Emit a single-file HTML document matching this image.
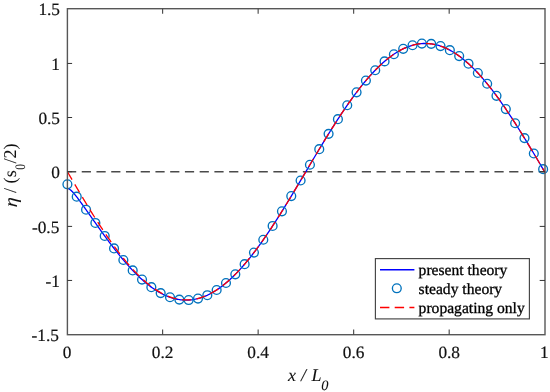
<!DOCTYPE html>
<html><head><meta charset="utf-8"><title>plot</title>
<style>html,body{margin:0;padding:0;background:#fff}svg{display:block}text{font-family:"Liberation Serif","Times New Roman",serif;fill:#111;text-rendering:geometricPrecision;stroke:#111;stroke-width:0.2px}.yl text{stroke-width:0.04px}</style></head><body>
<svg width="550" height="392" viewBox="0 0 550 392">
<rect width="550" height="392" fill="#fff"/>
<path d="M67.00,171.70 L545.00,171.70" stroke="#4a4a4a" stroke-width="1.4" stroke-dasharray="9.2 5.54" fill="none"/>
<path d="M67.40,188.42 L67.80,188.47 L68.21,188.57 L68.61,188.72 L69.02,188.91 L69.42,189.15 L69.83,189.42 L70.23,189.72 L70.64,190.04 L71.04,190.40 L71.45,190.77 L71.85,191.17 L72.26,191.58 L72.66,192.01 L73.07,192.46 L73.47,192.91 L73.88,193.38 L74.28,193.86 L74.69,194.35 L75.09,194.84 L75.49,195.35 L75.90,195.86 L76.30,196.37 L76.71,196.89 L77.11,197.42 L77.52,197.95 L77.92,198.49 L78.33,199.03 L78.73,199.57 L79.14,200.11 L79.54,200.66 L79.95,201.21 L80.35,201.77 L80.76,202.32 L81.16,202.88 L81.57,203.44 L81.97,204.00 L82.38,204.56 L82.78,205.13 L83.19,205.69 L83.59,206.26 L83.99,206.82 L84.40,207.39 L84.80,207.96 L85.21,208.53 L85.61,209.10 L86.02,209.67 L86.42,210.25 L86.83,210.82 L87.23,211.39 L87.64,211.96 L88.04,212.54 L88.45,213.11 L88.85,213.68 L89.26,214.26 L89.66,214.83 L90.07,215.41 L90.47,215.98 L90.88,216.56 L91.28,217.13 L92.47,218.83 L93.67,220.52 L94.86,222.21 L96.06,223.90 L97.25,225.58 L98.44,227.26 L99.64,228.93 L100.83,230.60 L102.03,232.26 L103.22,233.91 L104.41,235.55 L105.61,237.19 L106.80,238.81 L108.00,240.42 L109.19,242.02 L110.38,243.61 L111.58,245.19 L112.77,246.76 L113.97,248.31 L115.16,249.85 L116.35,251.37 L117.55,252.87 L118.74,254.36 L119.94,255.84 L121.13,257.30 L122.32,258.74 L123.52,260.16 L124.71,261.56 L125.91,262.95 L127.10,264.31 L128.29,265.66 L129.49,266.98 L130.68,268.28 L131.88,269.57 L133.07,270.83 L134.26,272.07 L135.46,273.28 L136.65,274.48 L137.85,275.65 L139.04,276.79 L140.23,277.92 L141.43,279.02 L142.62,280.09 L143.82,281.14 L145.01,282.16 L146.20,283.16 L147.40,284.13 L148.59,285.08 L149.79,286.00 L150.98,286.89 L152.17,287.75 L153.37,288.59 L154.56,289.40 L155.76,290.18 L156.95,290.94 L158.14,291.66 L159.34,292.36 L160.53,293.03 L161.73,293.66 L162.92,294.27 L164.11,294.85 L165.31,295.40 L166.50,295.93 L167.70,296.42 L168.89,296.88 L170.08,297.31 L171.28,297.71 L172.47,298.08 L173.67,298.42 L174.86,298.73 L176.05,299.01 L177.25,299.25 L178.44,299.47 L179.64,299.65 L180.83,299.81 L182.02,299.93 L183.22,300.02 L184.41,300.08 L185.61,300.11 L186.80,300.11 L187.99,300.08 L189.19,300.01 L190.38,299.92 L191.58,299.79 L192.77,299.63 L193.96,299.44 L195.16,299.22 L196.35,298.97 L197.55,298.68 L198.74,298.37 L199.93,298.02 L201.13,297.65 L202.32,297.24 L203.52,296.80 L204.71,296.33 L205.90,295.83 L207.10,295.30 L208.29,294.74 L209.49,294.15 L210.68,293.53 L211.87,292.88 L213.07,292.20 L214.26,291.49 L215.46,290.75 L216.65,289.98 L217.84,289.19 L219.04,288.36 L220.23,287.51 L221.43,286.62 L222.62,285.71 L223.81,284.77 L225.01,283.80 L226.20,282.81 L227.40,281.79 L228.59,280.74 L229.78,279.66 L230.98,278.56 L232.17,277.43 L233.37,276.28 L234.56,275.09 L235.75,273.89 L236.95,272.66 L238.14,271.40 L239.34,270.12 L240.53,268.82 L241.72,267.49 L242.92,266.13 L244.11,264.76 L245.31,263.36 L246.50,261.94 L247.69,260.50 L248.89,259.03 L250.08,257.54 L251.28,256.04 L252.47,254.51 L253.66,252.96 L254.86,251.39 L256.05,249.80 L257.25,248.19 L258.44,246.57 L259.63,244.92 L260.83,243.26 L262.02,241.58 L263.22,239.88 L264.41,238.16 L265.60,236.43 L266.80,234.68 L267.99,232.92 L269.19,231.14 L270.38,229.35 L271.57,227.55 L272.77,225.72 L273.96,223.89 L275.16,222.04 L276.35,220.19 L277.54,218.31 L278.74,216.43 L279.93,214.54 L281.13,212.63 L282.32,210.72 L283.51,208.80 L284.71,206.86 L285.90,204.92 L287.10,202.97 L288.29,201.02 L289.48,199.05 L290.68,197.08 L291.87,195.10 L293.07,193.12 L294.26,191.13 L295.45,189.14 L296.65,187.14 L297.84,185.14 L299.04,183.13 L300.23,181.12 L301.42,179.11 L302.62,177.10 L303.81,175.09 L305.01,173.08 L306.20,171.06 L307.39,169.05 L308.59,167.03 L309.78,165.02 L310.98,163.01 L312.17,161.00 L313.36,159.00 L314.56,156.99 L315.75,155.00 L316.95,153.00 L318.14,151.01 L319.33,149.02 L320.53,147.04 L321.72,145.07 L322.92,143.10 L324.11,141.14 L325.30,139.19 L326.50,137.25 L327.69,135.31 L328.89,133.39 L330.08,131.47 L331.27,129.56 L332.47,127.66 L333.66,125.78 L334.86,123.90 L336.05,122.04 L337.24,120.19 L338.44,118.35 L339.63,116.53 L340.83,114.71 L342.02,112.92 L343.21,111.13 L344.41,109.37 L345.60,107.61 L346.80,105.88 L347.99,104.16 L349.18,102.45 L350.38,100.77 L351.57,99.10 L352.77,97.45 L353.96,95.81 L355.15,94.20 L356.35,92.60 L357.54,91.03 L358.74,89.47 L359.93,87.94 L361.12,86.42 L362.32,84.93 L363.51,83.46 L364.71,82.01 L365.90,80.58 L367.09,79.17 L368.29,77.79 L369.48,76.43 L370.68,75.09 L371.87,73.78 L373.06,72.49 L374.26,71.23 L375.45,69.99 L376.65,68.78 L377.84,67.59 L379.03,66.42 L380.23,65.29 L381.42,64.18 L382.62,63.09 L383.81,62.04 L385.00,61.01 L386.20,60.00 L387.39,59.03 L388.59,58.08 L389.78,57.16 L390.97,56.27 L392.17,55.41 L393.36,54.57 L394.56,53.77 L395.75,52.99 L396.94,52.24 L398.14,51.53 L399.33,50.84 L400.53,50.18 L401.72,49.55 L402.91,48.95 L404.11,48.39 L405.30,47.85 L406.50,47.34 L407.69,46.87 L408.88,46.42 L410.08,46.01 L411.27,45.63 L412.47,45.27 L413.66,44.95 L414.85,44.66 L416.05,44.41 L417.24,44.18 L418.44,43.98 L419.63,43.82 L420.82,43.69 L422.02,43.59 L423.21,43.52 L424.41,43.48 L425.60,43.47 L426.79,43.50 L427.99,43.56 L429.18,43.65 L430.38,43.77 L431.57,43.92 L432.76,44.10 L433.96,44.32 L435.15,44.57 L436.35,44.84 L437.54,45.15 L438.73,45.49 L439.93,45.87 L441.12,46.27 L442.32,46.70 L443.51,47.17 L444.70,47.66 L445.90,48.19 L447.09,48.75 L448.29,49.33 L449.48,49.95 L450.67,50.60 L451.87,51.27 L453.06,51.98 L454.26,52.72 L455.45,53.48 L456.64,54.28 L457.84,55.10 L459.03,55.95 L460.23,56.83 L461.42,57.74 L462.61,58.68 L463.81,59.64 L465.00,60.64 L466.20,61.66 L467.39,62.71 L468.58,63.78 L469.78,64.88 L470.97,66.01 L472.17,67.16 L473.36,68.34 L474.55,69.55 L475.75,70.78 L476.94,72.03 L478.14,73.31 L479.33,74.61 L480.52,75.94 L481.72,77.29 L482.91,78.67 L484.11,80.06 L485.30,81.48 L486.49,82.93 L487.69,84.39 L488.88,85.88 L490.08,87.38 L491.27,88.91 L492.46,90.46 L493.66,92.03 L494.85,93.62 L496.05,95.22 L497.24,96.85 L498.43,98.49 L499.63,100.16 L500.82,101.84 L502.02,103.53 L503.21,105.25 L504.40,106.98 L505.60,108.73 L506.79,110.49 L507.99,112.27 L509.18,114.06 L510.37,115.86 L511.57,117.68 L512.76,119.52 L513.96,121.36 L515.15,123.22 L516.34,125.09 L517.54,126.98 L518.73,128.87 L519.93,130.77 L521.12,132.69 L522.31,134.61 L523.51,136.54 L524.70,138.48 L525.90,140.43 L527.09,142.39 L528.28,144.35 L529.48,146.33 L530.67,148.30 L531.87,150.29 L533.06,152.27 L534.25,154.27 L535.45,156.27 L536.64,158.27 L537.84,160.27 L539.03,162.28 L540.22,164.29 L541.42,166.30 L542.61,168.31 L543.81,170.33 L545.00,172.34" stroke="#0000ff" stroke-width="1.3" fill="none" stroke-linejoin="round"/>
<circle cx="67.40" cy="184.29" r="4.4" stroke="#0072BD" stroke-width="1.35" fill="none"/>
<circle cx="76.73" cy="196.66" r="4.4" stroke="#0072BD" stroke-width="1.35" fill="none"/>
<circle cx="86.06" cy="209.71" r="4.4" stroke="#0072BD" stroke-width="1.35" fill="none"/>
<circle cx="95.38" cy="222.95" r="4.4" stroke="#0072BD" stroke-width="1.35" fill="none"/>
<circle cx="104.71" cy="235.96" r="4.4" stroke="#0072BD" stroke-width="1.35" fill="none"/>
<circle cx="114.04" cy="248.40" r="4.4" stroke="#0072BD" stroke-width="1.35" fill="none"/>
<circle cx="123.37" cy="259.98" r="4.4" stroke="#0072BD" stroke-width="1.35" fill="none"/>
<circle cx="132.70" cy="270.44" r="4.4" stroke="#0072BD" stroke-width="1.35" fill="none"/>
<circle cx="142.03" cy="279.56" r="4.4" stroke="#0072BD" stroke-width="1.35" fill="none"/>
<circle cx="151.35" cy="287.16" r="4.4" stroke="#0072BD" stroke-width="1.35" fill="none"/>
<circle cx="160.68" cy="293.11" r="4.4" stroke="#0072BD" stroke-width="1.35" fill="none"/>
<circle cx="170.01" cy="297.28" r="4.4" stroke="#0072BD" stroke-width="1.35" fill="none"/>
<circle cx="179.34" cy="299.61" r="4.4" stroke="#0072BD" stroke-width="1.35" fill="none"/>
<circle cx="188.67" cy="300.04" r="4.4" stroke="#0072BD" stroke-width="1.35" fill="none"/>
<circle cx="197.99" cy="298.57" r="4.4" stroke="#0072BD" stroke-width="1.35" fill="none"/>
<circle cx="207.32" cy="295.20" r="4.4" stroke="#0072BD" stroke-width="1.35" fill="none"/>
<circle cx="216.65" cy="289.98" r="4.4" stroke="#0072BD" stroke-width="1.35" fill="none"/>
<circle cx="225.98" cy="283.00" r="4.4" stroke="#0072BD" stroke-width="1.35" fill="none"/>
<circle cx="235.31" cy="274.34" r="4.4" stroke="#0072BD" stroke-width="1.35" fill="none"/>
<circle cx="244.63" cy="264.15" r="4.4" stroke="#0072BD" stroke-width="1.35" fill="none"/>
<circle cx="253.96" cy="252.57" r="4.4" stroke="#0072BD" stroke-width="1.35" fill="none"/>
<circle cx="263.29" cy="239.77" r="4.4" stroke="#0072BD" stroke-width="1.35" fill="none"/>
<circle cx="272.62" cy="225.95" r="4.4" stroke="#0072BD" stroke-width="1.35" fill="none"/>
<circle cx="281.95" cy="211.32" r="4.4" stroke="#0072BD" stroke-width="1.35" fill="none"/>
<circle cx="291.27" cy="196.09" r="4.4" stroke="#0072BD" stroke-width="1.35" fill="none"/>
<circle cx="300.60" cy="180.50" r="4.4" stroke="#0072BD" stroke-width="1.35" fill="none"/>
<circle cx="309.93" cy="164.77" r="4.4" stroke="#0072BD" stroke-width="1.35" fill="none"/>
<circle cx="319.26" cy="149.15" r="4.4" stroke="#0072BD" stroke-width="1.35" fill="none"/>
<circle cx="328.59" cy="133.87" r="4.4" stroke="#0072BD" stroke-width="1.35" fill="none"/>
<circle cx="337.92" cy="119.15" r="4.4" stroke="#0072BD" stroke-width="1.35" fill="none"/>
<circle cx="347.24" cy="105.23" r="4.4" stroke="#0072BD" stroke-width="1.35" fill="none"/>
<circle cx="356.57" cy="92.31" r="4.4" stroke="#0072BD" stroke-width="1.35" fill="none"/>
<circle cx="365.90" cy="80.58" r="4.4" stroke="#0072BD" stroke-width="1.35" fill="none"/>
<circle cx="375.23" cy="70.22" r="4.4" stroke="#0072BD" stroke-width="1.35" fill="none"/>
<circle cx="384.56" cy="61.39" r="4.4" stroke="#0072BD" stroke-width="1.35" fill="none"/>
<circle cx="393.88" cy="54.22" r="4.4" stroke="#0072BD" stroke-width="1.35" fill="none"/>
<circle cx="403.21" cy="48.81" r="4.4" stroke="#0072BD" stroke-width="1.35" fill="none"/>
<circle cx="412.54" cy="45.25" r="4.4" stroke="#0072BD" stroke-width="1.35" fill="none"/>
<circle cx="421.87" cy="43.60" r="4.4" stroke="#0072BD" stroke-width="1.35" fill="none"/>
<circle cx="431.20" cy="43.87" r="4.4" stroke="#0072BD" stroke-width="1.35" fill="none"/>
<circle cx="440.52" cy="46.06" r="4.4" stroke="#0072BD" stroke-width="1.35" fill="none"/>
<circle cx="449.85" cy="50.15" r="4.4" stroke="#0072BD" stroke-width="1.35" fill="none"/>
<circle cx="459.18" cy="56.06" r="4.4" stroke="#0072BD" stroke-width="1.35" fill="none"/>
<circle cx="468.51" cy="63.71" r="4.4" stroke="#0072BD" stroke-width="1.35" fill="none"/>
<circle cx="477.84" cy="72.99" r="4.4" stroke="#0072BD" stroke-width="1.35" fill="none"/>
<circle cx="487.17" cy="83.75" r="4.4" stroke="#0072BD" stroke-width="1.35" fill="none"/>
<circle cx="496.49" cy="95.83" r="4.4" stroke="#0072BD" stroke-width="1.35" fill="none"/>
<circle cx="505.82" cy="109.06" r="4.4" stroke="#0072BD" stroke-width="1.35" fill="none"/>
<circle cx="515.15" cy="123.22" r="4.4" stroke="#0072BD" stroke-width="1.35" fill="none"/>
<circle cx="524.48" cy="138.12" r="4.4" stroke="#0072BD" stroke-width="1.35" fill="none"/>
<circle cx="533.81" cy="153.52" r="4.4" stroke="#0072BD" stroke-width="1.35" fill="none"/>
<circle cx="543.13" cy="169.19" r="4.4" stroke="#0072BD" stroke-width="1.35" fill="none"/>
<path d="M67.40,171.70 L67.80,172.39 L68.21,173.09 L68.61,173.78 L69.02,174.47 L69.42,175.17 L69.83,175.86 L70.23,176.55 L70.64,177.25 L71.04,177.94 L71.45,178.63 L71.85,179.33 L72.26,180.02 L72.66,180.71 L73.07,181.40 L73.47,182.09 L73.88,182.78 L74.28,183.48 L74.69,184.17 L75.09,184.86 L75.49,185.55 L75.90,186.24 L76.30,186.92 L76.71,187.61 L77.11,188.30 L77.52,188.99 L77.92,189.68 L78.33,190.36 L78.73,191.05 L79.14,191.73 L79.54,192.42 L79.95,193.10 L80.35,193.79 L80.76,194.47 L81.16,195.15 L81.57,195.83 L81.97,196.51 L82.38,197.19 L82.78,197.87 L83.19,198.55 L83.59,199.23 L83.99,199.91 L84.40,200.58 L84.80,201.26 L85.21,201.93 L85.61,202.61 L86.02,203.28 L86.42,203.95 L86.83,204.62 L87.23,205.29 L87.64,205.96 L88.04,206.63 L88.45,207.30 L88.85,207.96 L89.26,208.63 L89.66,209.29 L90.07,209.95 L90.47,210.61 L90.88,211.27 L91.28,211.93 L92.47,213.84 L93.67,215.74 L94.86,217.62 L96.06,219.50 L97.25,221.36 L98.44,223.21 L99.64,225.05 L100.83,226.88 L102.03,228.69 L103.22,230.48 L104.41,232.27 L105.61,234.03 L106.80,235.79 L108.00,237.52 L109.19,239.24 L110.38,240.95 L111.58,242.63 L112.77,244.30 L113.97,245.95 L115.16,247.59 L116.35,249.20 L117.55,250.80 L118.74,252.37 L119.94,253.93 L121.13,255.46 L122.32,256.98 L123.52,258.47 L124.71,259.94 L125.91,261.39 L127.10,262.82 L128.29,264.23 L129.49,265.61 L130.68,266.97 L131.88,268.31 L133.07,269.62 L134.26,270.91 L135.46,272.17 L136.65,273.41 L137.85,274.62 L139.04,275.81 L140.23,276.98 L141.43,278.11 L142.62,279.22 L143.82,280.31 L145.01,281.36 L146.20,282.40 L147.40,283.40 L148.59,284.37 L149.79,285.32 L150.98,286.24 L152.17,287.13 L153.37,287.99 L154.56,288.83 L155.76,289.63 L156.95,290.41 L158.14,291.16 L159.34,291.87 L160.53,292.56 L161.73,293.22 L162.92,293.85 L164.11,294.45 L165.31,295.01 L166.50,295.55 L167.70,296.06 L168.89,296.53 L170.08,296.98 L171.28,297.39 L172.47,297.77 L173.67,298.13 L174.86,298.45 L176.05,298.74 L177.25,298.99 L178.44,299.22 L179.64,299.42 L180.83,299.58 L182.02,299.71 L183.22,299.81 L184.41,299.88 L185.61,299.92 L186.80,299.93 L187.99,299.90 L189.19,299.84 L190.38,299.75 L191.58,299.63 L192.77,299.48 L193.96,299.30 L195.16,299.08 L196.35,298.83 L197.55,298.56 L198.74,298.25 L199.93,297.91 L201.13,297.53 L202.32,297.13 L203.52,296.70 L204.71,296.23 L205.90,295.74 L207.10,295.21 L208.29,294.65 L209.49,294.07 L210.68,293.45 L211.87,292.80 L213.07,292.13 L214.26,291.42 L215.46,290.68 L216.65,289.92 L217.84,289.12 L219.04,288.30 L220.23,287.45 L221.43,286.57 L222.62,285.66 L223.81,284.72 L225.01,283.76 L226.20,282.76 L227.40,281.74 L228.59,280.69 L229.78,279.62 L230.98,278.52 L232.17,277.39 L233.37,276.24 L234.56,275.06 L235.75,273.85 L236.95,272.62 L238.14,271.37 L239.34,270.09 L240.53,268.79 L241.72,267.46 L242.92,266.11 L244.11,264.73 L245.31,263.34 L246.50,261.92 L247.69,260.47 L248.89,259.01 L250.08,257.52 L251.28,256.02 L252.47,254.49 L253.66,252.94 L254.86,251.37 L256.05,249.78 L257.25,248.18 L258.44,246.55 L259.63,244.91 L260.83,243.24 L262.02,241.56 L263.22,239.87 L264.41,238.15 L265.60,236.42 L266.80,234.67 L267.99,232.91 L269.19,231.13 L270.38,229.34 L271.57,227.54 L272.77,225.72 L273.96,223.88 L275.16,222.04 L276.35,220.18 L277.54,218.31 L278.74,216.42 L279.93,214.53 L281.13,212.63 L282.32,210.71 L283.51,208.79 L284.71,206.86 L285.90,204.92 L287.10,202.97 L288.29,201.01 L289.48,199.05 L290.68,197.07 L291.87,195.10 L293.07,193.11 L294.26,191.13 L295.45,189.13 L296.65,187.13 L297.84,185.13 L299.04,183.13 L300.23,181.12 L301.42,179.11 L302.62,177.10 L303.81,175.09 L305.01,173.07 L306.20,171.06 L307.39,169.04 L308.59,167.03 L309.78,165.02 L310.98,163.01 L312.17,161.00 L313.36,158.99 L314.56,156.99 L315.75,154.99 L316.95,153.00 L318.14,151.01 L319.33,149.02 L320.53,147.04 L321.72,145.07 L322.92,143.10 L324.11,141.14 L325.30,139.19 L326.50,137.25 L327.69,135.31 L328.89,133.38 L330.08,131.47 L331.27,129.56 L332.47,127.66 L333.66,125.78 L334.86,123.90 L336.05,122.04 L337.24,120.19 L338.44,118.35 L339.63,116.52 L340.83,114.71 L342.02,112.92 L343.21,111.13 L344.41,109.37 L345.60,107.61 L346.80,105.88 L347.99,104.16 L349.18,102.45 L350.38,100.77 L351.57,99.10 L352.77,97.45 L353.96,95.81 L355.15,94.20 L356.35,92.60 L357.54,91.03 L358.74,89.47 L359.93,87.94 L361.12,86.42 L362.32,84.93 L363.51,83.46 L364.71,82.01 L365.90,80.58 L367.09,79.17 L368.29,77.79 L369.48,76.43 L370.68,75.09 L371.87,73.78 L373.06,72.49 L374.26,71.23 L375.45,69.99 L376.65,68.78 L377.84,67.59 L379.03,66.42 L380.23,65.29 L381.42,64.18 L382.62,63.09 L383.81,62.04 L385.00,61.00 L386.20,60.00 L387.39,59.03 L388.59,58.08 L389.78,57.16 L390.97,56.27 L392.17,55.41 L393.36,54.57 L394.56,53.77 L395.75,52.99 L396.94,52.24 L398.14,51.53 L399.33,50.84 L400.53,50.18 L401.72,49.55 L402.91,48.95 L404.11,48.39 L405.30,47.85 L406.50,47.34 L407.69,46.87 L408.88,46.42 L410.08,46.01 L411.27,45.63 L412.47,45.27 L413.66,44.95 L414.85,44.66 L416.05,44.41 L417.24,44.18 L418.44,43.98 L419.63,43.82 L420.82,43.69 L422.02,43.59 L423.21,43.52 L424.41,43.48 L425.60,43.47 L426.79,43.50 L427.99,43.56 L429.18,43.65 L430.38,43.77 L431.57,43.92 L432.76,44.10 L433.96,44.32 L435.15,44.57 L436.35,44.84 L437.54,45.15 L438.73,45.49 L439.93,45.87 L441.12,46.27 L442.32,46.70 L443.51,47.17 L444.70,47.66 L445.90,48.19 L447.09,48.75 L448.29,49.33 L449.48,49.95 L450.67,50.60 L451.87,51.27 L453.06,51.98 L454.26,52.72 L455.45,53.48 L456.64,54.28 L457.84,55.10 L459.03,55.95 L460.23,56.83 L461.42,57.74 L462.61,58.68 L463.81,59.64 L465.00,60.64 L466.20,61.66 L467.39,62.71 L468.58,63.78 L469.78,64.88 L470.97,66.01 L472.17,67.16 L473.36,68.34 L474.55,69.55 L475.75,70.78 L476.94,72.03 L478.14,73.31 L479.33,74.61 L480.52,75.94 L481.72,77.29 L482.91,78.67 L484.11,80.06 L485.30,81.48 L486.49,82.93 L487.69,84.39 L488.88,85.88 L490.08,87.38 L491.27,88.91 L492.46,90.46 L493.66,92.03 L494.85,93.62 L496.05,95.22 L497.24,96.85 L498.43,98.49 L499.63,100.16 L500.82,101.84 L502.02,103.53 L503.21,105.25 L504.40,106.98 L505.60,108.73 L506.79,110.49 L507.99,112.27 L509.18,114.06 L510.37,115.86 L511.57,117.68 L512.76,119.52 L513.96,121.36 L515.15,123.22 L516.34,125.09 L517.54,126.98 L518.73,128.87 L519.93,130.77 L521.12,132.69 L522.31,134.61 L523.51,136.54 L524.70,138.48 L525.90,140.43 L527.09,142.39 L528.28,144.35 L529.48,146.33 L530.67,148.30 L531.87,150.29 L533.06,152.27 L534.25,154.27 L535.45,156.27 L536.64,158.27 L537.84,160.27 L539.03,162.28 L540.22,164.29 L541.42,166.30 L542.61,168.31 L543.81,170.33 L545.00,172.34" stroke="#ff0000" stroke-width="1.3" fill="none" stroke-dasharray="9.2 5.53" stroke-linejoin="round"/>
<rect x="67.40" y="8.70" width="477.60" height="326.00" fill="none" stroke="#575757" stroke-width="1.4"/>
<path d="M162.62,334.70 v-5.10 M162.62,8.70 v5.10 M258.14,334.70 v-5.10 M258.14,8.70 v5.10 M353.66,334.70 v-5.10 M353.66,8.70 v5.10 M449.18,334.70 v-5.10 M449.18,8.70 v5.10" stroke="#444" stroke-width="1.1" fill="none"/>
<path d="M67.40,63.45 h4.70 M545.00,63.45 h-5.30 M67.40,117.50 h4.70 M545.00,117.50 h-5.30 M67.40,171.70 h4.70 M545.00,171.70 h-5.30 M67.40,226.40 h4.70 M545.00,226.40 h-5.30 M67.40,280.45 h4.70 M545.00,280.45 h-5.30" stroke="#333" stroke-width="1" fill="none"/>
<text x="67.10" y="358" font-size="17.3" text-anchor="middle">0</text>
<text x="162.62" y="358" font-size="17.3" text-anchor="middle">0.2</text>
<text x="258.14" y="358" font-size="17.3" text-anchor="middle">0.4</text>
<text x="353.66" y="358" font-size="17.3" text-anchor="middle">0.6</text>
<text x="449.18" y="358" font-size="17.3" text-anchor="middle">0.8</text>
<text x="544.20" y="358" font-size="17.3" text-anchor="middle">1</text>
<text x="60.0" y="14.80" font-size="17.3" text-anchor="end">1.5</text>
<text x="60.0" y="69.73" font-size="17.3" text-anchor="end">1</text>
<text x="60.0" y="124.37" font-size="17.3" text-anchor="end">0.5</text>
<text x="60.0" y="178.30" font-size="17.3" text-anchor="end">0</text>
<text x="59.3" y="232.63" font-size="17.3" text-anchor="end">-0.5</text>
<text x="59.8" y="286.97" font-size="17.3" text-anchor="end">-1</text>
<text x="58.9" y="341.40" font-size="17.3" text-anchor="end">-1.5</text>
<text y="380.6" font-size="18" font-style="italic" style="stroke-width:0.08px"><tspan x="287.9">x</tspan><tspan x="300.9">/</tspan><tspan x="311.5">L</tspan><tspan x="321.3" font-size="14.4" dy="9.0">0</tspan></text>
<g transform="translate(15.8,206.8) rotate(-90)" font-size="18" class="yl">
<text transform="translate(-0.6,1.0) skewX(-5) scale(1.06,1)" font-size="18.6" font-style="italic">η</text>
<text x="13.8">/</text><text x="23.2">(</text><text x="29.6">s</text>
<text transform="translate(37.1,8.9) scale(0.8,1)" font-size="14.4">0</text>
<text x="43.4">/2)</text>
</g>
<rect x="375.4" y="258.6" width="154" height="60.3" fill="#fff" stroke="#444" stroke-width="1.15"/>
<path d="M380,269.65 H414.4" stroke="#0000ff" stroke-width="1.45"/>
<circle cx="396.8" cy="288.3" r="4.4" stroke="#0072BD" stroke-width="1.35" fill="none"/>
<path d="M380,307.4 H414.4" stroke="#ff0000" stroke-width="1.45" stroke-dasharray="9.4 5.3"/>
<text x="418.6" y="275.3" font-size="15.6" style="fill:#000;stroke:#000;stroke-width:0.3px">present theory</text>
<text x="418.6" y="294.4" font-size="15.6" style="fill:#000;stroke:#000;stroke-width:0.3px">steady theory</text>
<text x="418.6" y="313.2" font-size="15.6" style="fill:#000;stroke:#000;stroke-width:0.3px">propagating only</text>
</svg></body></html>
